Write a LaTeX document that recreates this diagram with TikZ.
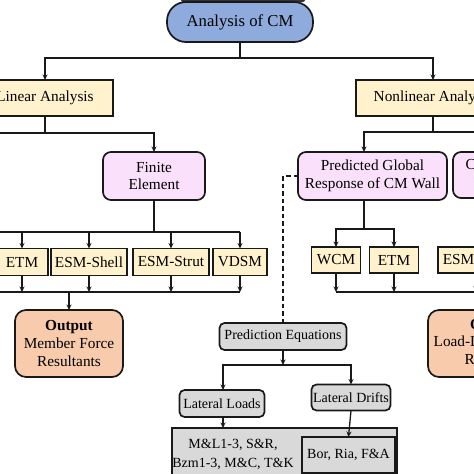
\documentclass[tikz,border=0pt]{standalone}
\usepackage{fontspec}
\setmainfont{Liberation Serif}
\usetikzlibrary{arrows.meta}
\definecolor{cmblue}{RGB}{143,170,220}
\definecolor{cmyellow}{RGB}{255,242,204}
\definecolor{cmpink}{RGB}{250,224,250}
\definecolor{cmorange}{RGB}{248,203,173}
\definecolor{cmgray}{RGB}{217,217,217}
\begin{document}
\begin{tikzpicture}[x=1pt,y=-1pt,
  base/.style={draw=black!90,line width=1.7pt,inner sep=0pt,outer sep=0pt,align=center,text=black,font=\fontsize{15.3}{17.7}\selectfont},
  ybox/.style={base,fill=cmyellow,minimum height=27pt},
  pbox/.style={base,fill=cmpink,rounded corners=8pt,minimum height=48pt},
  obox/.style={base,fill=cmorange,rounded corners=11pt,minimum height=67pt},
  gbox/.style={base,fill=cmgray,rounded corners=5pt,font=\fontsize{14}{17}\selectfont},
  conn/.style={line width=1.3pt,draw=black!90},
  arr/.style={conn,-{Stealth[length=5.5pt,width=5pt]}}]
\useasboundingbox (0,0) rectangle (474,474);
\clip (0,0) rectangle (474,474);
% partial shape at the top edge
\path[fill=black!80,rounded corners=2pt] (181,-8) rectangle (305,2);
% nodes
\node[base,fill=cmblue,rounded corners=19pt,minimum width=146pt,minimum height=40pt,font=\fontsize{16.7}{19}\selectfont] (title) at (240,22) {Analysis of CM};
\node[ybox,minimum width=136pt,minimum height=36pt] (lin) at (45,98) {Linear Analysis};
\node[ybox,minimum width=154pt,minimum height=36pt] (nonlin) at (433,98) {Nonlinear Analysis};
\node[pbox,minimum width=102pt] (fe) at (154,176) {Finite\\Element};
\node[pbox,minimum width=149pt] (pred) at (372.5,176) {Predicted Global\\Response of CM Wall};
\node[pbox,minimum width=100pt,minimum height=46pt] (cbox) at (503,175) {Constitutive\\Response};
\node[ybox,minimum width=52pt] (etma) at (22,262) {ETM};
\node[ybox,minimum width=76pt] (shell) at (89,262) {ESM-Shell};
\node[ybox,minimum width=76pt] (strut) at (171,262) {ESM-Strut};
\node[ybox,minimum width=54pt] (vdsm) at (240,262) {VDSM};
\node[ybox,minimum width=49pt,minimum height=26pt] (wcm) at (336,260) {WCM};
\node[ybox,minimum width=49pt,minimum height=26pt] (etmb) at (394,260) {ETM};
\node[ybox,minimum width=76pt,minimum height=26pt] (esm) at (476,260) {ESM-Strut};
\node[obox,minimum width=108pt] (outa) at (69,343.5) {\textbf{Output}\\Member Force\\Resultants};
\node[obox,minimum width=132pt] (outb) at (494,343.5) {\textbf{Output}\\Load-Displacement\\Response};
\node[gbox,minimum width=127pt,minimum height=27pt] (pe) at (283,336.5) {Prediction Equations};
\node[gbox,minimum width=85pt,minimum height=27pt] (ll) at (222,403.5) {Lateral Loads};
\node[gbox,minimum width=79pt,minimum height=26pt] (ld) at (351,397.5) {Lateral Drifts};
\node[gbox,rounded corners=0pt,minimum width=225pt,minimum height=80pt,line width=1.8pt] (big) at (284.5,468) {};
\node[base,draw=none,fill=none,font=\fontsize{14}{19}\selectfont] (bigtxt) at (233,454) {M\&L1-3, S\&R,\\Bzm1-3, M\&C, T\&K};
\node[gbox,rounded corners=0pt,minimum width=93pt,minimum height=36pt,line width=1.8pt] (inner) at (348.5,455) {Bor, Ria, F\&A};
% coordinates
\coordinate (t1) at (240,58);
\coordinate (l1) at (45,133);
\coordinate (l0) at (-20,133);
\coordinate (f1) at (154,232);
\coordinate (f0) at (-20,232);
\coordinate (b1) at (69,292);
\coordinate (b0) at (-20,292);
\coordinate (n1) at (433,132);
\coordinate (p1) at (364,229);
\coordinate (q1) at (364,292);
\coordinate (e1) at (283,365);
% connectors: top
\draw[conn] (title.south) -- (t1);
\draw[arr] (t1) -| (lin.north);
\draw[arr] (t1) -| (nonlin.north);
% linear branch
\draw[conn] (lin.south) -- (l1);
\draw[conn] (l0) -- (l1);
\draw[arr] (l1) -| (fe.north);
\draw[conn] (fe.south) -- (f1);
\draw[conn] (f0) -- (vdsm.north |- f1);
\foreach \n in {etma,shell,strut,vdsm}{
  \draw[arr] (\n.north |- f1) -- (\n.north);
  \draw[arr] (\n.south) -- (\n.south |- b1);
}
\draw[conn] (b0) -- (vdsm.south |- b1);
\draw[arr] (b1) -- (outa.north);
% nonlinear branch
\draw[conn] (nonlin.south) -- (n1);
\draw[arr] (n1) -| ([xshift=-8.5pt]pred.north);
\draw[arr] (n1) -| (cbox.north);
\draw[conn] ([xshift=-8.5pt]pred.south) -- (p1);
\draw[arr] (p1) -| (wcm.north);
\draw[arr] (p1) -| (etmb.north);
\foreach \n in {wcm,etmb,esm}{
  \draw[arr] (\n.south) -- (\n.south |- q1);
}
\draw[conn] (wcm.south |- q1) -- (esm.south |- q1);
% prediction equations
\draw[conn,dashed,dash pattern=on 4.5pt off 3pt] (pred.west) -| (pe.north);
\draw[arr] (pe.south) -- (e1);
\draw[arr] (e1) -| ([xshift=1pt]ll.north);
\draw[arr] (e1) -| (ld.north);
\draw[arr] ([xshift=1pt]ll.south) -- ([xshift=1pt]ll.south |- big.north);
\draw[arr] (ld.south) -- (inner.north);
\end{tikzpicture}
\end{document}
